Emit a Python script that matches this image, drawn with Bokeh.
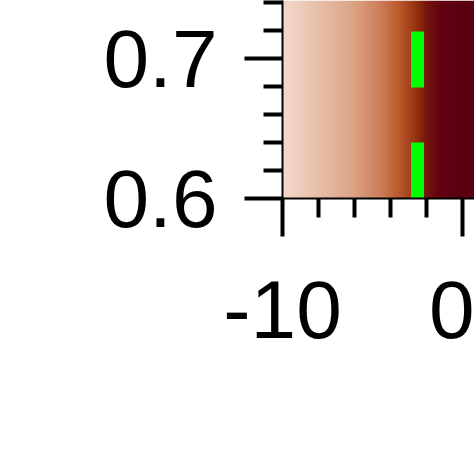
import numpy as np
from bokeh.plotting import figure
from bokeh.models import FixedTicker, Range1d
from bokeh.embed import file_html
from bokeh.resources import INLINE

# ---- data ----
x_ticks = [-10, 0]
x_minor = [-8, -6, -4, -2]
y_ticks = [0.6, 0.7]
y_minor = [0.62, 0.64, 0.66, 0.68, 0.72, 0.74]
threshold = -2.5
# gradient colour stops along x (value, colour)
stop_x = [-10.0, -8.0, -6.0, -4.5, -4.0, -3.5, -3.0, -2.5, -2.0, -1.5, -1.0, 0.7]
stop_col = ["#f3dacd", "#e8c0aa", "#dca283", "#cc7c56", "#c46a40", "#b85a2c",
            "#a84420", "#92300c", "#781610", "#680810", "#600010", "#5a0010"]

W, H = 474, 474
x0, x1 = -10.0, 0.667
y0, y1 = 0.6, 0.7414

p = figure(width=W, height=H, output_backend="svg", toolbar_location=None,
           x_range=Range1d(x0, x1), y_range=Range1d(y0, y1),
           min_border_left=282, min_border_right=0, min_border_top=0,
           min_border_bottom=H - 198)
p.outline_line_color = None
p.grid.visible = False
p.background_fill_color = "white"

# gradient image
ncol = 400
cols = np.linspace(x0, x1, ncol)
rgb = np.array([[int(c[i:i + 2], 16) for i in (1, 3, 5)] for c in stop_col], dtype=float)
r = np.interp(cols, stop_x, rgb[:, 0])
g = np.interp(cols, stop_x, rgb[:, 1])
b = np.interp(cols, stop_x, rgb[:, 2])
img = np.zeros((2, ncol), dtype=np.uint32)
view = img.view(dtype=np.uint8).reshape((2, ncol, 4))
for row in range(2):
    view[row, :, 0] = r.astype(np.uint8)
    view[row, :, 1] = g.astype(np.uint8)
    view[row, :, 2] = b.astype(np.uint8)
    view[row, :, 3] = 255
p.image_rgba(image=[img], x=x0, y=y0, dw=x1 - x0, dh=y1 - y0)

# threshold line
p.line(x=[threshold, threshold], y=[y0, y1], line_color="#00ff00", line_width=13,
       line_dash="56 55", line_cap="butt")

for ax, maj, mnr in ((p.xaxis[0], x_ticks, x_minor), (p.yaxis[0], y_ticks, y_minor)):
    ax.ticker = FixedTicker(ticks=maj, minor_ticks=mnr)
    ax.axis_line_width = 2
    ax.axis_line_color = "black"
    ax.major_tick_line_width = 4
    ax.minor_tick_line_width = 4
    ax.major_tick_out = 38
    ax.major_tick_in = 0
    ax.minor_tick_out = 19
    ax.minor_tick_in = 0
    ax.major_label_text_font = "Liberation Sans"
    ax.major_label_text_font_size = "82px"
    ax.major_label_text_color = "black"
p.xaxis[0].major_label_standoff = 44
p.yaxis[0].major_label_standoff = 27
p.xaxis[0].major_label_overrides = {-10: "-10", 0: "0"}
p.yaxis[0].major_label_overrides = {0.6: "0.6", 0.7: "0.7"}

open("out.html", "w").write(file_html(p, INLINE))
